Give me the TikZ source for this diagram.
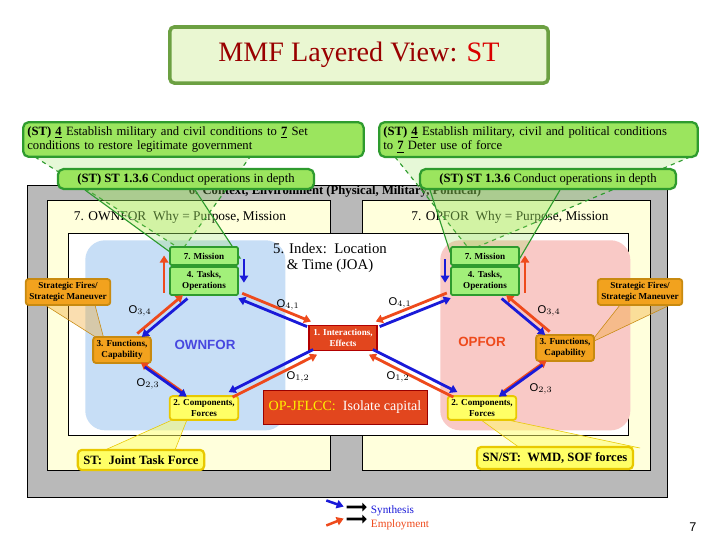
\documentclass[tikz,border=0pt]{standalone}
\usepackage{fontspec}
\setmainfont{Liberation Serif}
\setsansfont{Liberation Sans}
\usepackage{xcolor}
\usetikzlibrary{arrows.meta, positioning, calc, shapes, shapes.arrows}

\definecolor{callfill}{HTML}{9BE55E}
\definecolor{calldraw}{HTML}{2E9B2E}
\definecolor{taskfill}{HTML}{A2F07A}
\definecolor{orfill}{HTML}{F2A21E}
\definecolor{ordraw}{HTML}{C88A10}
\definecolor{yefill}{HTML}{FFFF66}
\definecolor{yedraw}{HTML}{E8C800}
\definecolor{rdfill}{HTML}{E2461E}
\definecolor{blreg}{HTML}{C7DEF6}
\definecolor{rdreg}{HTML}{F9C9C6}
\definecolor{panelfill}{HTML}{FFFFDC}
\definecolor{titlefill}{HTML}{EAF7D2}
\definecolor{empred}{HTML}{EE4A1C}
\definecolor{synblue}{HTML}{1A1AD8}

\newcommand{\twoway}[4]{%
  \draw[emp, transform canvas={shift={(#3,#4)}}] (#1) -- (#2);
  \draw[syn, transform canvas={shift={(-#3,-#4)}}] (#2) -- (#1);}

\begin{document}
\begin{tikzpicture}[
    x=0.025cm, y=-0.025cm,
    font=\small,
    callout/.style={draw=calldraw, fill=callfill, line width=1.6pt, rounded corners=4pt, align=left, font=\fontsize{9}{10.5}\selectfont, inner sep=3pt},
    task/.style={draw=calldraw, fill=taskfill, line width=1.3pt, rounded corners=1pt, align=center, font=\fontsize{6.5}{7.5}\selectfont\bfseries, minimum width=1.7cm, inner sep=2pt},
    fire/.style={draw=ordraw, fill=orfill, line width=1.3pt, rounded corners=2pt, align=center, font=\fontsize{6.5}{7.5}\selectfont\bfseries, inner sep=2.5pt},
    comp/.style={draw=yedraw, fill=yefill, line width=1.3pt, rounded corners=2pt, align=center, font=\fontsize{6.5}{7.5}\selectfont\bfseries, inner sep=2.5pt},
    force/.style={draw=yedraw, fill=yefill, line width=1.6pt, rounded corners=3pt, font=\fontsize{9}{10}\selectfont\bfseries, inner sep=4pt},
    olabel/.style={font=\sffamily\fontsize{8}{9}\selectfont},
    emp/.style={draw=empred, line width=2pt, -{Triangle[length=5pt,width=6pt]}, shorten <=1pt, shorten >=1pt},
    syn/.style={draw=synblue, line width=2pt, -{Triangle[length=5pt,width=6pt]}, shorten <=1pt, shorten >=1pt},
    wedge/.style={fill=callfill, fill opacity=0.25, draw=calldraw, line width=0.8pt},
    dwedge/.style={wedge, dashed}
]
    \useasboundingbox (0,0) rectangle (720,540);

    % --- Title ---
    \node[draw=callfill!70!black, fill=titlefill, line width=2.5pt, rounded corners=3pt, minimum width=9.45cm, minimum height=1.4cm, font=\fontsize{20}{24}\selectfont] (title) at (359,55) {\textcolor{red!60!black}{MMF Layered View:} \textcolor{red!85!black}{ST}};

    % --- Context frame ---
    \node[draw, fill=gray!55, minimum width=16cm, minimum height=7.8cm, anchor=north west] (context) at (27,185) {};
    \node[font=\fontsize{9}{10}\selectfont\bfseries] (ctxlabel) at (335,191) {6. Context, Environment (Physical, Military, Political)};
    \node[draw, fill=panelfill, minimum width=7.07cm, minimum height=6.75cm, anchor=north west] (ownpanel) at (47,200) {};
    \node[draw, fill=panelfill, minimum width=7.2cm, minimum height=6.75cm, anchor=north west] (oppanel) at (362,200) {};
    \node[font=\fontsize{9.5}{10}\selectfont] (ownwhy) at (180,217) {7. OWNFOR\ \ Why = Purpose, Mission};
    \node[font=\fontsize{9.5}{10}\selectfont] (oppwhy) at (510,217) {7. OPFOR\ \ Why = Purpose, Mission};
    \node[draw, fill=white, minimum width=14cm, minimum height=5.05cm, anchor=north west] (arena) at (68,233) {};
    \node[fill=blreg, rounded corners=14pt, minimum width=5cm, minimum height=4.75cm, anchor=north west] (ownreg) at (85,240) {};
    \node[fill=rdreg, rounded corners=14pt, minimum width=4.75cm, minimum height=4.75cm, anchor=north west] (oppreg) at (440,240) {};

    % --- Callout wedges ---
    \path[dwedge] (35,157) -- (182,250) -- (250,157);
    \path[dwedge] (395,157) -- (470,250) -- (690,157);
    \path[wedge] (85,190) -- (170,252) -- (240,258) -- (195,190);
    \path[wedge] (430,190) -- (450,252) -- (520,258) -- (560,190);
    \path[fill=orfill, fill opacity=0.35, draw=ordraw] (45,305) -- (105,343) -- (95,305);
    \path[fill=orfill, fill opacity=0.35, draw=ordraw] (620,305) -- (590,343) -- (670,305);
    \path[fill=yefill, fill opacity=0.5, draw=yedraw] (105,450) -- (190,412) -- (175,450);
    \path[fill=yefill, fill opacity=0.5, draw=yedraw] (520,448) -- (470,412) -- (640,448);

    % --- Texts in the arena ---
    \node[align=center, font=\fontsize{10.5}{12}\selectfont] (index) at (330,258) {5. Index:\ \ Location\\\& Time (JOA)};
    \node[font=\sffamily\bfseries\fontsize{9.5}{10}\selectfont, text=synblue!80!white] (ownname) at (205,345) {OWNFOR};
    \node[font=\sffamily\bfseries\fontsize{9.5}{10}\selectfont, text=empred] (oppname) at (482,342) {OPFOR};

    % --- Layer nodes ---
    \node[task, minimum height=0.45cm] (ownmission) at (204,256) {7. Mission};
    \node[task, minimum height=0.7cm] (owntasks) at (204,281) {4. Tasks,\\Operations};
    \node[task, minimum height=0.45cm] (oppmission) at (485,256) {7. Mission};
    \node[task, minimum height=0.7cm] (opptasks) at (485,281) {4. Tasks,\\Operations};
    \node[fire] (ownfires) at (68,292) {Strategic Fires/\\Strategic Maneuver};
    \node[fire] (oppfires) at (640,292) {Strategic Fires/\\Strategic Maneuver};
    \node[fire] (ownfunc) at (122,350) {3. Functions,\\Capability};
    \node[fire] (oppfunc) at (565,348) {3. Functions,\\Capability};
    \node[comp] (owncomp) at (204,408) {2. Components,\\Forces};
    \node[comp] (oppcomp) at (482,408) {2. Components,\\Forces};
    \node[draw=red!70!black, fill=rdfill, line width=1pt, align=center, text=white, font=\fontsize{6.5}{7.5}\selectfont\bfseries, inner sep=3pt] (interact) at (343,338) {1. Interactions,\\Effects};
    \node[draw=red!60!black, fill=rdfill, minimum width=4.1cm, minimum height=0.85cm, font=\fontsize{10}{11}\selectfont] (jflcc) at (345,407) {\textcolor{yellow}{OP-JFLCC:}\ \ \textcolor{white}{Isolate capital}};

    % --- Employment / synthesis arrows ---
    \twoway{owntasks}{interact}{1.4pt}{1.8pt}
    \twoway{owncomp}{interact}{1.4pt}{-1.8pt}
    \twoway{ownfunc}{owntasks}{-1.6pt}{1.2pt}
    \twoway{owncomp}{ownfunc}{-1.4pt}{1.6pt}
    \twoway{opptasks}{interact}{-1.4pt}{1.8pt}
    \twoway{oppcomp}{interact}{-1.4pt}{-1.8pt}
    \twoway{oppfunc}{opptasks}{1.6pt}{1.2pt}
    \twoway{oppcomp}{oppfunc}{1.4pt}{1.6pt}
    \draw[emp] ($(owntasks.south west)+(-5,-2)$) -- ($(ownmission.north west)+(-5,8)$);
    \draw[syn] ($(ownmission.south east)+(5,-8)$) -- ($(owntasks.north east)+(5,18)$);
    \draw[syn] ($(oppmission.south west)+(-5,-8)$) -- ($(opptasks.north west)+(-5,18)$);
    \draw[emp] ($(opptasks.south east)+(5,-2)$) -- ($(oppmission.north east)+(5,8)$);

    % --- Subscript labels ---
    \node[olabel] (o41a) at (288,305) {O$_{4,1}$};
    \node[olabel] (o41b) at (400,303) {O$_{4,1}$};
    \node[olabel] (o34a) at (140,311) {O$_{3,4}$};
    \node[olabel] (o34b) at (549,311) {O$_{3,4}$};
    \node[olabel] (o12a) at (298,377) {O$_{1,2}$};
    \node[olabel] (o12b) at (398,377) {O$_{1,2}$};
    \node[olabel] (o23a) at (148,384) {O$_{2,3}$};
    \node[olabel] (o23b) at (541,389) {O$_{2,3}$};

    % --- Force callouts ---
    \node[force] (jtf) at (141,460) {ST:\ \ Joint Task Force};
    \node[force] (wmd) at (555,458) {SN/ST:\ \ WMD, SOF forces};

    % --- Task callouts ---
    \node[callout, text width=8.3cm, anchor=north west, font=\fontsize{9}{10.5}\selectfont\raggedright] (owncall) at (22,121) {\textbf{(ST)} \underline{\textbf{4}} Establish military and civil conditions to \underline{\textbf{7}} Set\\conditions to restore legitimate government};
    \node[callout, text width=7.75cm, anchor=north west, font=\fontsize{9}{10.5}\selectfont\raggedright] (oppcall) at (378,121) {\textbf{(ST)} \underline{\textbf{4}} Establish military, civil and political conditions\\to \underline{\textbf{7}} Deter use of force};
    \node[callout, minimum width=6.4cm, align=center] (owndepth) at (186,179) {\textbf{(ST) ST 1.3.6} Conduct operations in depth};
    \node[callout, minimum width=6.4cm, align=center] (oppdepth) at (548,179) {\textbf{(ST) ST 1.3.6} Conduct operations in depth};

    % --- Legend ---
    \coordinate (synstart) at (325,500);
    \coordinate (synend) at (345,507);
    \coordinate (empstart) at (325,526);
    \coordinate (empend) at (345,518);
    \draw[syn, line width=1.8pt] (synstart) -- (synend);
    \draw[emp, line width=1.8pt] (empstart) -- (empend);
    \node[single arrow, fill=black, minimum height=0.5cm, minimum width=0.22cm, single arrow head extend=1pt, inner sep=0.3pt] (synblock) at (356,507) {};
    \node[single arrow, fill=black, minimum height=0.5cm, minimum width=0.22cm, single arrow head extend=1pt, inner sep=0.3pt] (empblock) at (356,519) {};
    \node[anchor=west, text=synblue, font=\fontsize{8}{9}\selectfont] (synlabel) at (366,511) {Synthesis};
    \node[anchor=west, text=empred, font=\fontsize{8}{9}\selectfont] (emplabel) at (366,525) {Employment};
    \node[font=\sffamily\fontsize{9}{10}\selectfont] (pagenum) at (693,527) {7};
\end{tikzpicture}
\end{document}
